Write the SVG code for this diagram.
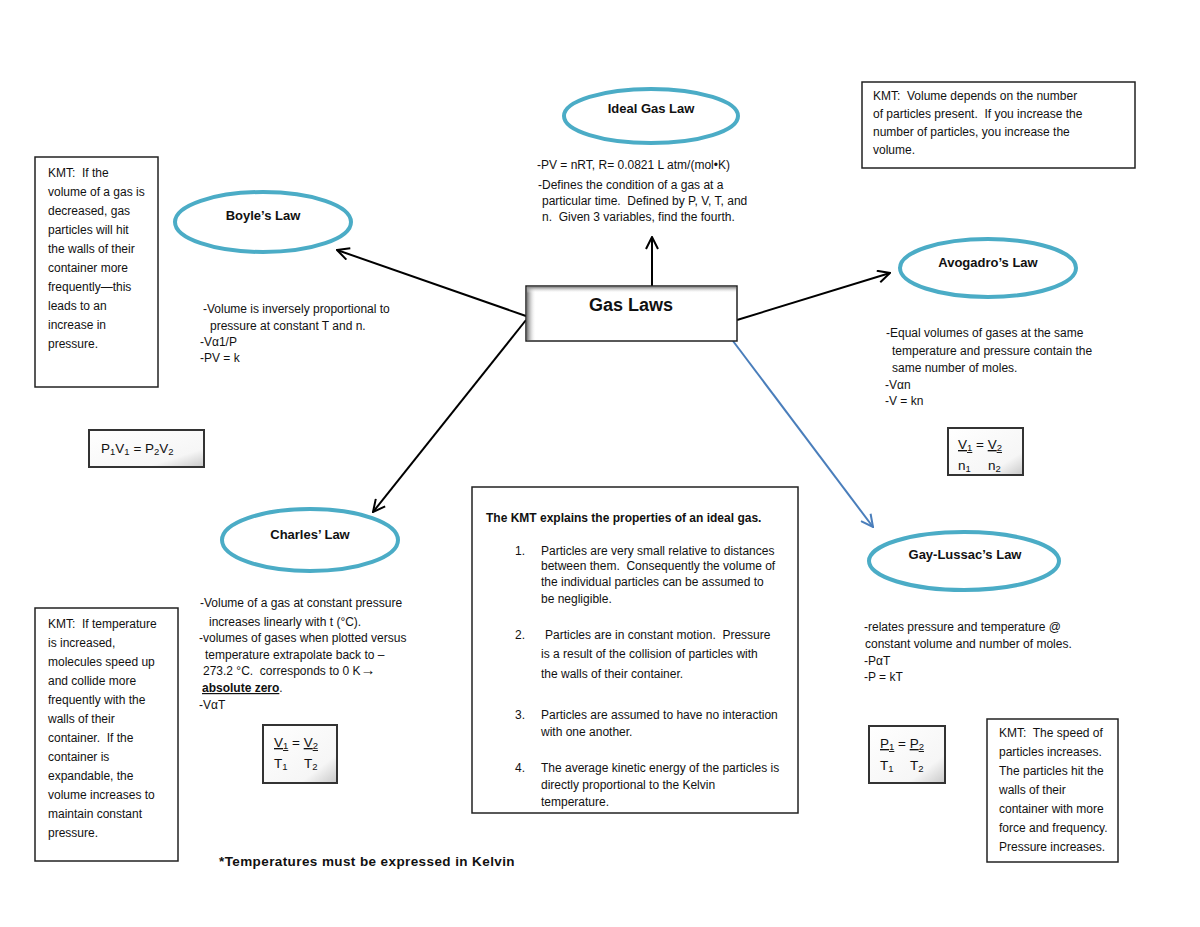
<svg xmlns="http://www.w3.org/2000/svg" width="1200" height="927" viewBox="0 0 1200 927" xml:space="preserve">
<style>
text{white-space:pre}
.t{font-family:"Liberation Sans",Arial,sans-serif;font-size:12px;fill:#111}
.b{font-weight:bold}
.lbl{font-family:"Liberation Sans",Arial,sans-serif;font-size:13px;font-weight:bold;fill:#111;text-anchor:middle}
.ell{fill:#fff;stroke:#4BACC6;stroke-width:4}
.box{fill:#fff;stroke:#222;stroke-width:1.5}
.fbox{fill:url(#fgrad);stroke:#333;stroke-width:2}
.f{font-family:"Liberation Sans",Arial,sans-serif;font-size:13.5px;fill:#111}
.sub{font-size:9.5px}
.con{stroke:#000;stroke-width:2;fill:none;marker-end:url(#ah)}
.conb{stroke:#4A7EBB;stroke-width:2;fill:none;marker-end:url(#ahb)}
</style>
<defs>
<marker id="ah" viewBox="0 0 14 14" refX="13" refY="7" markerWidth="14" markerHeight="14" markerUnits="userSpaceOnUse" orient="auto">
<path d="M1,1 L13,7 L1,13" fill="none" stroke="#000" stroke-width="2"/>
</marker>
<marker id="ahb" viewBox="0 0 14 14" refX="13" refY="7" markerWidth="14" markerHeight="14" markerUnits="userSpaceOnUse" orient="auto">
<path d="M1,1 L13,7 L1,13" fill="none" stroke="#4A7EBB" stroke-width="2"/>
</marker>
<linearGradient id="fgrad" x1="0" y1="0" x2="1" y2="1">
<stop offset="0" stop-color="#fff"/>
<stop offset="0.75" stop-color="#f6f6f6"/>
<stop offset="1" stop-color="#c8c8c8"/>
</linearGradient>
<linearGradient id="shL" x1="0" y1="0" x2="1" y2="0">
<stop offset="0" stop-color="#777"/>
<stop offset="1" stop-color="#fff" stop-opacity="0"/>
</linearGradient>
<linearGradient id="shT" x1="0" y1="0" x2="0" y2="1">
<stop offset="0" stop-color="#888"/>
<stop offset="1" stop-color="#fff" stop-opacity="0"/>
</linearGradient>
</defs>
<rect width="1200" height="927" fill="#fff"/>

<g id="connectors">
<line class="con" x1="652" y1="286" x2="652" y2="237"/>
<line class="con" x1="526" y1="316" x2="337" y2="250"/>
<line class="con" x1="526" y1="320" x2="373" y2="512"/>
<line class="con" x1="737" y1="320" x2="890" y2="273"/>
<line class="conb" x1="733" y1="341" x2="873" y2="527"/>
</g>

<g id="gas-laws">
<rect class="box" x="526" y="286" width="211" height="55"/>
<rect x="527" y="287" width="9" height="53" fill="url(#shL)"/>
<rect x="527" y="287" width="209" height="6" fill="url(#shT)"/>
<text x="631" y="311" class="t b" style="font-size:18px" text-anchor="middle">Gas Laws</text>
</g>

<g id="ideal-gas-law">
<ellipse class="ell" cx="651" cy="116" rx="87" ry="27"/>
<text class="lbl" x="651" y="113">Ideal Gas Law</text>
<text class="t" x="537" y="169">-PV = nRT, R= 0.0821 L atm/(mol•K)</text>
<text class="t" x="538" y="189">-Defines the condition of a gas at a</text>
<text class="t" x="542" y="205">particular time.  Defined by P, V, T, and</text>
<text class="t" x="542" y="221">n.  Given 3 variables, find the fourth.</text>
</g>

<g id="boyles-law">
<ellipse class="ell" cx="263" cy="222" rx="88" ry="30"/>
<text class="lbl" x="263" y="220">Boyle’s Law</text>
<text class="t" x="203" y="313">-Volume is inversely proportional to</text>
<text class="t" x="210" y="330">pressure at constant T and n.</text>
<text class="t" x="200" y="346">-Vα1/P</text>
<text class="t" x="200" y="362">-PV = k</text>
</g>

<g id="boyle-formula">
<rect class="fbox" x="89" y="430" width="115" height="37"/>
<text class="f" x="101" y="453">P<tspan class="sub" dy="2">1</tspan><tspan dy="-2">V</tspan><tspan class="sub" dy="2">1</tspan><tspan dy="-2"> = P</tspan><tspan class="sub" dy="2">2</tspan><tspan dy="-2">V</tspan><tspan class="sub" dy="2">2</tspan></text>
</g>

<g id="kmt-boyle">
<rect class="box" x="35" y="157" width="123" height="230"/>
<text class="t" x="48" y="177">KMT:  If the</text>
<text class="t" x="48" y="196">volume of a gas is</text>
<text class="t" x="48" y="215">decreased, gas</text>
<text class="t" x="48" y="234">particles will hit</text>
<text class="t" x="48" y="253">the walls of their</text>
<text class="t" x="48" y="272">container more</text>
<text class="t" x="48" y="291">frequently—this</text>
<text class="t" x="48" y="310">leads to an</text>
<text class="t" x="48" y="329">increase in</text>
<text class="t" x="48" y="348">pressure.</text>
</g>

<g id="kmt-avogadro">
<rect class="box" x="862" y="82" width="273" height="86"/>
<text class="t" x="873" y="100">KMT:  Volume depends on the number</text>
<text class="t" x="873" y="118">of particles present.  If you increase the</text>
<text class="t" x="873" y="136">number of particles, you increase the</text>
<text class="t" x="873" y="154">volume.</text>
</g>

<g id="avogadros-law">
<ellipse class="ell" cx="988" cy="268" rx="88" ry="29"/>
<text class="lbl" x="988" y="267">Avogadro’s Law</text>
<text class="t" x="886" y="337">-Equal volumes of gases at the same</text>
<text class="t" x="892" y="355">temperature and pressure contain the</text>
<text class="t" x="892" y="372">same number of moles.</text>
<text class="t" x="885" y="389">-Vαn</text>
<text class="t" x="885" y="405">-V = kn</text>
</g>

<g id="avogadro-formula">
<rect class="fbox" x="948" y="428" width="75" height="47"/>
<text class="f" x="958" y="449"><tspan text-decoration="underline">V<tspan class="sub" dy="2">1</tspan></tspan><tspan dy="-2"> = </tspan><tspan text-decoration="underline">V<tspan class="sub" dy="2">2</tspan></tspan></text>
<text class="f" x="958" y="470">n<tspan class="sub" dy="2">1</tspan></text>
<text class="f" x="988" y="470">n<tspan class="sub" dy="2">2</tspan></text>
</g>

<g id="charles-law">
<ellipse class="ell" cx="310" cy="540" rx="88" ry="31"/>
<text class="lbl" x="310" y="539">Charles’ Law</text>
<text class="t" x="200" y="607">-Volume of a gas at constant pressure</text>
<text class="t" x="209" y="626">increases linearly with t (°C).</text>
<text class="t" x="199" y="642">-volumes of gases when plotted versus</text>
<text class="t" x="205" y="659">temperature extrapolate back to –</text>
<text class="t" x="203" y="675">273.2 °C.  corresponds to 0 K<tspan style="font-size:15px">→</tspan></text>
<text class="t" x="202" y="692"><tspan class="b" text-decoration="underline">absolute zero</tspan>.</text>
<text class="t" x="199" y="709">-VαT</text>
</g>

<g id="charles-formula">
<rect class="fbox" x="263" y="725" width="74" height="58"/>
<text class="f" x="274" y="747"><tspan text-decoration="underline">V<tspan class="sub" dy="2">1</tspan></tspan><tspan dy="-2"> = </tspan><tspan text-decoration="underline">V<tspan class="sub" dy="2">2</tspan></tspan></text>
<text class="f" x="274" y="768">T<tspan class="sub" dy="2">1</tspan></text>
<text class="f" x="304" y="768">T<tspan class="sub" dy="2">2</tspan></text>
</g>

<g id="kmt-charles">
<rect class="box" x="35" y="608" width="143" height="253"/>
<text class="t" x="48" y="628">KMT:  If temperature</text>
<text class="t" x="48" y="647">is increased,</text>
<text class="t" x="48" y="666">molecules speed up</text>
<text class="t" x="48" y="685">and collide more</text>
<text class="t" x="48" y="704">frequently with the</text>
<text class="t" x="48" y="723">walls of their</text>
<text class="t" x="48" y="742">container.  If the</text>
<text class="t" x="48" y="761">container is</text>
<text class="t" x="48" y="780">expandable, the</text>
<text class="t" x="48" y="799">volume increases to</text>
<text class="t" x="48" y="818">maintain constant</text>
<text class="t" x="48" y="837">pressure.</text>
</g>

<g id="kmt-ideal">
<rect class="box" x="472" y="487" width="326" height="326"/>
<text class="t b" x="486" y="522">The KMT explains the properties of an ideal gas.</text>
<text class="t" x="515" y="555">1.</text>
<text class="t" x="541" y="555">Particles are very small relative to distances</text>
<text class="t" x="541" y="570">between them.  Consequently the volume of</text>
<text class="t" x="541" y="586">the individual particles can be assumed to</text>
<text class="t" x="541" y="603">be negligible.</text>
<text class="t" x="515" y="639">2.</text>
<text class="t" x="545" y="639">Particles are in constant motion.  Pressure</text>
<text class="t" x="541" y="658">is a result of the collision of particles with</text>
<text class="t" x="541" y="678">the walls of their container.</text>
<text class="t" x="515" y="719">3.</text>
<text class="t" x="541" y="719">Particles are assumed to have no interaction</text>
<text class="t" x="541" y="736">with one another.</text>
<text class="t" x="515" y="772">4.</text>
<text class="t" x="541" y="772">The average kinetic energy of the particles is</text>
<text class="t" x="541" y="789">directly proportional to the Kelvin</text>
<text class="t" x="541" y="806">temperature.</text>
</g>

<g id="gay-lussacs-law">
<ellipse class="ell" cx="964" cy="561" rx="95" ry="29"/>
<text class="lbl" x="965" y="559">Gay-Lussac’s Law</text>
<text class="t" x="864" y="631">-relates pressure and temperature @</text>
<text class="t" x="865" y="648">constant volume and number of moles.</text>
<text class="t" x="864" y="665">-PαT</text>
<text class="t" x="864" y="681">-P = kT</text>
</g>

<g id="gay-lussac-formula">
<rect class="fbox" x="869" y="726" width="76" height="57"/>
<text class="f" x="880" y="748"><tspan text-decoration="underline">P<tspan class="sub" dy="2">1</tspan></tspan><tspan dy="-2"> = </tspan><tspan text-decoration="underline">P<tspan class="sub" dy="2">2</tspan></tspan></text>
<text class="f" x="880" y="770">T<tspan class="sub" dy="2">1</tspan></text>
<text class="f" x="910" y="770">T<tspan class="sub" dy="2">2</tspan></text>
</g>

<g id="kmt-gay-lussac">
<rect class="box" x="987" y="719" width="131" height="143"/>
<text class="t" x="999" y="737">KMT:  The speed of</text>
<text class="t" x="999" y="756">particles increases.</text>
<text class="t" x="999" y="775">The particles hit the</text>
<text class="t" x="999" y="794">walls of their</text>
<text class="t" x="999" y="813">container with more</text>
<text class="t" x="999" y="832">force and frequency.</text>
<text class="t" x="999" y="851">Pressure increases.</text>
</g>

<g id="note">
<text class="t b" x="219" y="866" style="font-size:13.5px;letter-spacing:0.4px">*Temperatures must be expressed in Kelvin</text>
</g>
</svg>
